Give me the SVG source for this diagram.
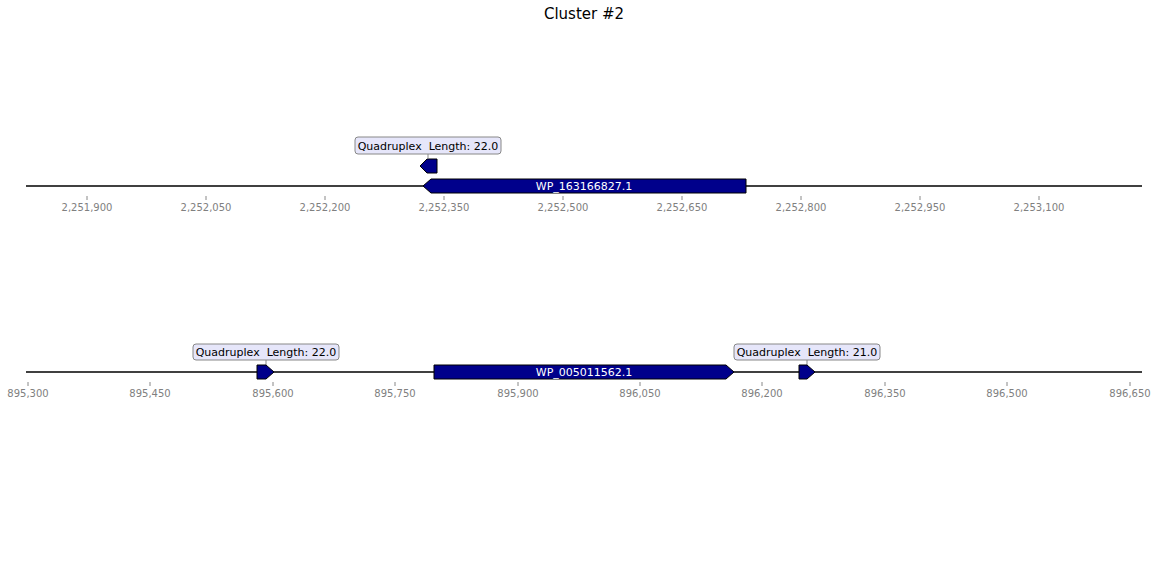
<svg xmlns="http://www.w3.org/2000/svg" width="1156" height="576" viewBox="0 0 1156 576">
<style>
.ax{stroke:#000;stroke-width:1.5}
.tk{stroke:#888;stroke-width:1}
.tl{font:10px "DejaVu Sans",sans-serif;fill:#808080;text-anchor:middle}
.g{fill:#00008b;stroke:#000;stroke-width:1}
.gl{font:11px "DejaVu Sans",sans-serif;fill:#fff;text-anchor:middle}
.bx{fill:#e6e6fa;stroke:#888;stroke-width:1}
.bl{font:11px "DejaVu Sans",sans-serif;fill:#000;text-anchor:middle;white-space:pre}
.pl{stroke:#888;stroke-width:1}
</style>
<rect width="1156" height="576" fill="#fff"/>
<text x="584" y="19" style="font:15px 'DejaVu Sans',sans-serif;text-anchor:middle">Cluster #2</text>
<g id="connectors">
<line class="ax" x1="26" y1="186" x2="1142" y2="186"/>
<line class="ax" x1="26" y1="372" x2="1142" y2="372"/>
<line class="pl" x1="428" y1="154" x2="428" y2="158"/>
<line class="pl" x1="266" y1="360" x2="266" y2="365"/>
<line class="pl" x1="807" y1="360" x2="807" y2="365"/>
</g>
<g id="axis1">
<g class="tk"><line x1="87" y1="196" x2="87" y2="200"/><line x1="206" y1="196" x2="206" y2="200"/><line x1="325" y1="196" x2="325" y2="200"/><line x1="444" y1="196" x2="444" y2="200"/><line x1="563" y1="196" x2="563" y2="200"/><line x1="682" y1="196" x2="682" y2="200"/><line x1="801" y1="196" x2="801" y2="200"/><line x1="920" y1="196" x2="920" y2="200"/><line x1="1039" y1="196" x2="1039" y2="200"/></g>
<text class="tl" x="87" y="211">2,251,900</text><text class="tl" x="206" y="211">2,252,050</text><text class="tl" x="325" y="211">2,252,200</text><text class="tl" x="444" y="211">2,252,350</text><text class="tl" x="563" y="211">2,252,500</text><text class="tl" x="682" y="211">2,252,650</text><text class="tl" x="801" y="211">2,252,800</text><text class="tl" x="920" y="211">2,252,950</text><text class="tl" x="1039" y="211">2,253,100</text>
</g>
<g id="axis2">
<g class="tk"><line x1="28" y1="382" x2="28" y2="386"/><line x1="150" y1="382" x2="150" y2="386"/><line x1="273" y1="382" x2="273" y2="386"/><line x1="395" y1="382" x2="395" y2="386"/><line x1="518" y1="382" x2="518" y2="386"/><line x1="640" y1="382" x2="640" y2="386"/><line x1="762" y1="382" x2="762" y2="386"/><line x1="885" y1="382" x2="885" y2="386"/><line x1="1007" y1="382" x2="1007" y2="386"/><line x1="1130" y1="382" x2="1130" y2="386"/></g>
<text class="tl" x="28" y="397">895,300</text><text class="tl" x="150" y="397">895,450</text><text class="tl" x="273" y="397">895,600</text><text class="tl" x="395" y="397">895,750</text><text class="tl" x="518" y="397">895,900</text><text class="tl" x="640" y="397">896,050</text><text class="tl" x="762" y="397">896,200</text><text class="tl" x="885" y="397">896,350</text><text class="tl" x="1007" y="397">896,500</text><text class="tl" x="1130" y="397">896,650</text>
</g>
<g id="gene1"><polygon class="g" points="423,186 431,179 746,179 746,193 431,193"/><text class="gl" x="584" y="190">WP_163166827.1</text></g>
<g id="quad1"><polygon class="g" points="420,166 427,159 437,159 437,173 427,173"/><rect class="bx" x="355" y="137" width="146" height="17" rx="3"/><text class="bl" x="428" y="149.5" xml:space="preserve">Quadruplex  Length: 22.0</text></g>
<g id="gene2"><polygon class="g" points="434,365 726,365 734,372 726,379 434,379"/><text class="gl" x="584" y="376">WP_005011562.1</text></g>
<g id="quad2"><polygon class="g" points="257,365 266,365 274,372 266,379 257,379"/><rect class="bx" x="193" y="344" width="146" height="16" rx="3"/><text class="bl" x="266" y="356" xml:space="preserve">Quadruplex  Length: 22.0</text></g>
<g id="quad3"><polygon class="g" points="799,365 807,365 815,372 807,379 799,379"/><rect class="bx" x="734" y="344" width="146" height="16" rx="3"/><text class="bl" x="807" y="356" xml:space="preserve">Quadruplex  Length: 21.0</text></g>
</svg>
